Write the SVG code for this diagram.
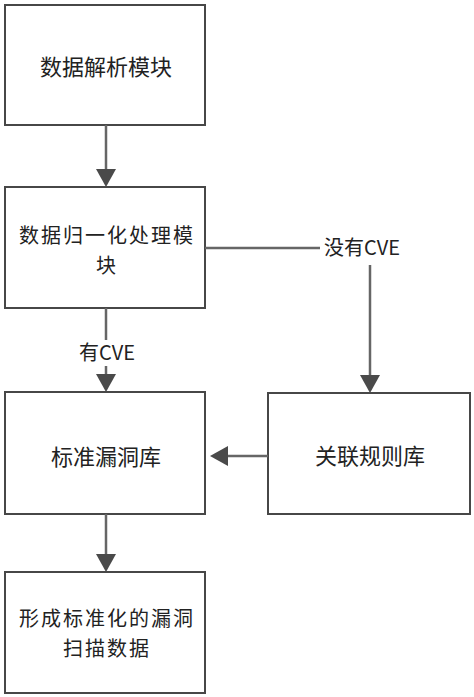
<svg xmlns="http://www.w3.org/2000/svg" width="474" height="697" viewBox="0 0 474 697">
<style>
.box{fill:#fff;stroke:#474747;stroke-width:2}
.t{font-family:"Noto Sans CJK SC","Noto Sans",sans-serif;font-size:22px;fill:#222;text-anchor:middle}
.m{font-family:"Noto Sans CJK SC","Noto Sans",sans-serif;font-size:20px;letter-spacing:2px;fill:#222;text-anchor:middle}
.l{font-family:"Noto Sans CJK SC","Noto Sans",sans-serif;font-size:20px;fill:#222;text-anchor:middle}
.c{stroke:#666;stroke-width:2.5;fill:none}
.h{fill:#4a4a4a}
</style>
<rect width="474" height="697" fill="#fff"/>
<g id="n1"><rect class="box" x="5" y="5" width="200" height="120"/><text class="t" x="106" y="75">数据解析模块</text></g>
<g id="n2"><rect class="box" x="5" y="187" width="200" height="121"/><text class="m" x="107" y="243">数据归一化处理模</text><text class="m" x="107" y="273">块</text></g>
<g id="n3"><rect class="box" x="5" y="392" width="200" height="122"/><text class="t" x="106" y="465">标准漏洞库</text></g>
<g id="n4"><rect class="box" x="5" y="572" width="200" height="121"/><text class="m" x="107" y="626">形成标准化的漏洞</text><text class="m" x="107" y="656">扫描数据</text></g>
<g id="n5"><rect class="box" x="268" y="393" width="202" height="121"/><text class="t" x="370" y="464">关联规则库</text></g>
<g id="connectors">
<line class="c" x1="106" y1="125" x2="106" y2="170"/><polygon class="h" points="96,169 116,169 106,187"/>
<line class="c" x1="106" y1="308" x2="106" y2="340"/>
<text class="l" x="107" y="360">有CVE</text>
<line class="c" x1="106" y1="366" x2="106" y2="376"/><polygon class="h" points="96,374 116,374 106,392"/>
<line class="c" x1="205" y1="248" x2="320" y2="248"/>
<text class="l" x="362" y="255">没有CVE</text>
<line class="c" x1="370" y1="265" x2="370" y2="376"/><polygon class="h" points="360,375 380,375 370,393"/>
<line class="c" x1="268" y1="456" x2="226" y2="456"/><polygon class="h" points="228,446 228,466 210,456"/>
<line class="c" x1="106" y1="514" x2="106" y2="556"/><polygon class="h" points="96,554 116,554 106,572"/>
</g>
</svg>
